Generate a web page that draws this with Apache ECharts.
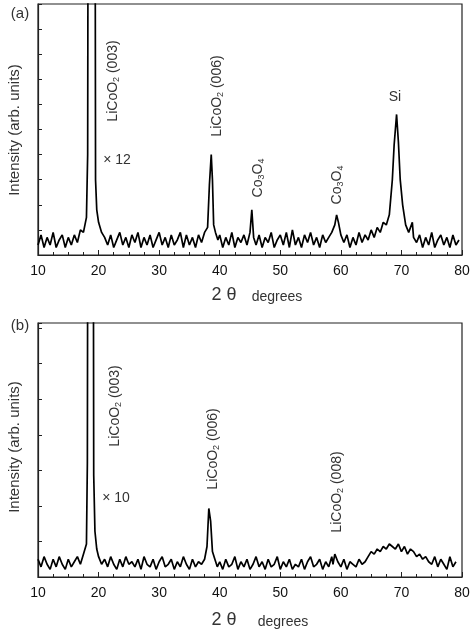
<!DOCTYPE html><html><head><meta charset="utf-8">
<script src="https://cdn.jsdelivr.net/npm/echarts@6/dist/echarts.min.js"></script>
<style>html,body{margin:0;background:#fff}#c{width:474px;height:636px}</style></head><body><div id="c"></div>
<script>
// Panel (a) data: 2theta (deg), intensity (arb.)
const thetaA=[10,10.5,11,11.5,12,12.5,13,13.5,14,14.5,15,15.5,16,16.5,17,17.5,18,18.2,18.3,19.4,19.5,19.7,20,20.5,21,21.5,22,22.5,23,23.5,24,24.5,25,25.5,26,26.5,27,27.5,28,28.5,29,29.5,30,30.5,31,31.5,32,32.5,33,33.5,34,34.5,35,35.5,36,36.5,37,37.5,38,38.3,38.6,38.8,39,39.3,39.7,40,40.5,41,41.5,42,42.5,43,43.5,44,44.5,45,45.3,45.6,46,46.5,47,47.5,48,48.5,49,49.5,50,50.5,51,51.5,52,52.5,53,53.5,54,54.5,55,55.5,56,56.5,57,57.5,58,58.5,59,59.3,59.6,60,60.5,61,61.5,62,62.5,63,63.5,64,64.5,65,65.5,66,66.5,67,67.5,68,68.5,68.8,69.2,69.5,69.8,70.2,70.7,71.2,71.8,72,72.5,73,73.5,74,74.5,75,75.5,76,76.5,77,77.5,78,78.5,79,79.5,80];
const intenA=[4,8,3,7,4,9,3,6,8,3,7,4,8,5,10,9,15,40,200,200,30,18,13,9,7,4,8,3,6,9,4,7,3,8,5,9,3,7,4,8,3,6,9,4,7,3,8,4,6,9,3,8,4,7,3,8,5,9,11,28,40,30,12,9,6,8,3,7,4,9,3,7,5,8,4,9,18,7,4,8,3,7,5,9,3,6,8,4,9,3,10,4,7,3,8,5,9,4,7,3,8,5,7,9,12,16,13,8,5,8,3,7,4,9,5,8,6,10,7,11,9,13,12,16,30,44,56,45,30,20,12,9,13,7,5,8,3,7,4,9,3,6,8,4,7,3,8,4,6];
// Panel (b) data
const thetaB=[10,10.5,11,11.5,12,12.5,13,13.5,14,14.5,15,15.5,16,16.5,17,17.5,18,18.15,18.25,19.1,19.2,19.4,19.7,20,20.5,21,21.5,22,22.5,23,23.5,24,24.5,25,25.5,26,26.5,27,27.5,28,28.5,29,29.5,30,30.5,31,31.5,32,32.5,33,33.5,34,34.5,35,35.5,36,36.5,37,37.5,37.9,38.2,38.5,38.8,39.2,39.6,40,40.5,41,41.5,42,42.5,43,43.5,44,44.5,45,45.5,46,46.5,47,47.5,48,48.5,49,49.5,50,50.5,51,51.5,52,52.5,53,53.5,54,54.5,55,55.5,56,56.5,57,57.5,58,58.5,58.7,59,59.5,60,60.5,61,61.5,62,62.5,63,63.5,64,64.5,65,65.5,66,66.5,67,67.5,68,68.5,69,69.5,70,70.5,71,71.5,72,72.5,73,73.5,74,74.5,75,75.5,76,76.5,77,77.5,78,78.5,79,79.5,80];
const intenB=[7,4,8,5,3,7,4,8,5,3,7,4,6,8,5,9,13,45,200,200,40,18,11,8,5,7,4,8,5,3,7,4,8,5,6,4,7,3,8,5,4,7,3,6,8,4,5,7,3,6,4,8,5,3,7,4,6,5,7,12,27,22,10,7,4,6,3,7,4,5,8,3,6,4,7,3,5,8,4,6,3,7,4,5,8,3,6,4,7,3,5,4,7,3,6,8,4,5,7,3,6,4,8,5,9,6,4,7,3,6,5,4,7,5,6,8,10,9,11,10,12,11,13,12,11,13,10,12,9,11,10,8,9,7,8,6,5,8,4,7,5,3,8,4,6];
const xTicks=[10,20,30,40,50,60,70,80];

const zip=(a,b)=>a.map((v,i)=>[v,b[i]]);
const tc='#333';
const rt=(t,x,y,fs)=>({type:'text',x:x,y:y,rotation:Math.PI/2,style:{text:t,fill:tc,font:(fs||14)+'px Arial, Liberation Sans',align:'center',verticalAlign:'middle',rich:{s:{fontSize:9,fill:tc,verticalAlign:'bottom',padding:[8,0,0,0]},n:{fontSize:14,fill:tc}}}});
const tx=(t,x,y,fs)=>({type:'text',x:x,y:y,style:{text:t,fill:tc,font:(fs||14)+'px Arial, Liberation Sans',align:'center',verticalAlign:'middle'}});
const xa=(gi)=>({gridIndex:gi,type:'value',min:10,max:80,interval:10,
  axisLine:{lineStyle:{color:'#222',width:1.2}},axisTick:{inside:true,length:5,lineStyle:{color:'#222'}},
  minorTick:{show:true,splitNumber:4,length:3,lineStyle:{color:'#222'}},
  axisLabel:{color:'#111',fontSize:14,fontFamily:'Arial',margin:9},splitLine:{show:false}});
const ya=(gi,iv)=>({gridIndex:gi,type:'value',min:0,max:100,interval:iv,axisLine:{lineStyle:{color:'#222',width:1.2}},
  axisTick:{inside:true,length:4,lineStyle:{color:'#222'}},axisLabel:{show:false},splitLine:{show:false}});
const ch=echarts.init(document.getElementById('c'));
ch.setOption({animation:false,
 grid:[{left:38,right:12,top:4,height:251,show:true,borderColor:'#222',borderWidth:1.2},
       {left:38,right:12,top:323,height:254,show:true,borderColor:'#222',borderWidth:1.2}],
 xAxis:[xa(0),xa(1)],yAxis:[ya(0,10),ya(1,14)],
 series:[{type:'line',xAxisIndex:0,yAxisIndex:0,data:zip(thetaA,intenA),symbol:'none',lineStyle:{color:'#000',width:1.7}},
         {type:'line',xAxisIndex:1,yAxisIndex:1,data:zip(thetaB,intenB),symbol:'none',lineStyle:{color:'#000',width:1.7}}],
 graphic:[
  tx('(a)',20,14,15),tx('(b)',20,326,15),
  rt('Intensity (arb. units)',15,130,15),rt('Intensity (arb. units)',15,447,15),
  tx('2 θ',224,295,18),tx('degrees',277,297,14),tx('2 θ',224,620,18),tx('degrees',283,622,14),
  rt('LiCoO{s|2} (003)',113,81),rt('LiCoO{s|2} (006)',217,96),rt('Co{s|3}O{s|4}',258,178),rt('Co{s|3}O{s|4}',337,185),
  tx('Si',395,97,14),tx('× 12',117,160,14),
  rt('LiCoO{s|2} (003)',115,406),rt('LiCoO{s|2} (006)',213,449),rt('LiCoO{s|2} (008)',337,492),tx('× 10',116,498,14)
 ]});
</script></body></html>
